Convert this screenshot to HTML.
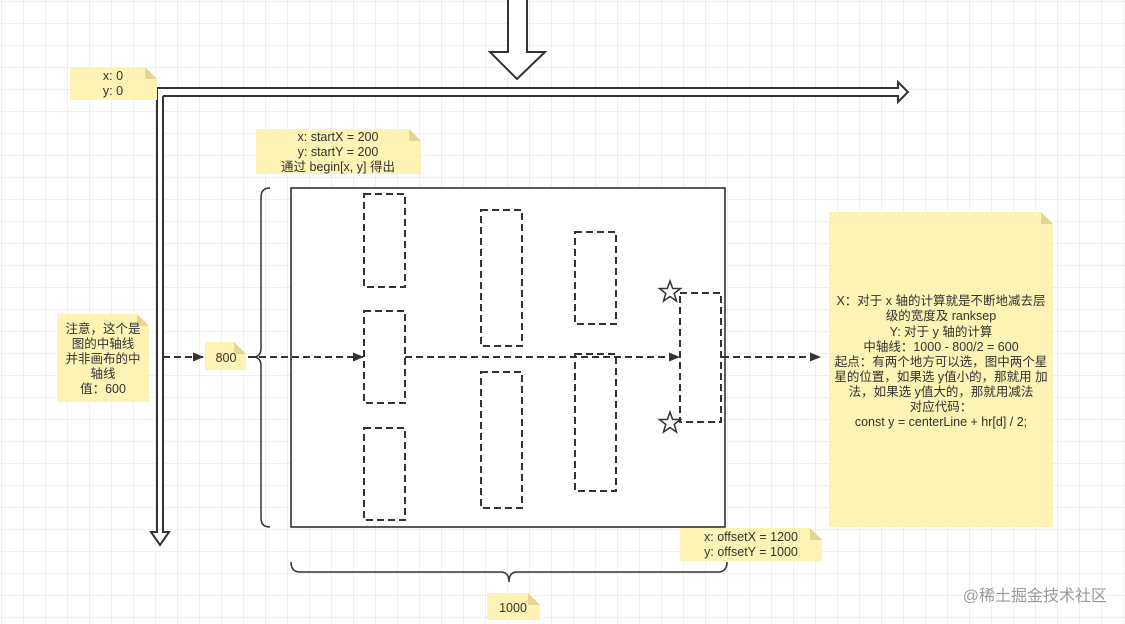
<!DOCTYPE html>
<html><head><meta charset="utf-8"><style>
html,body{margin:0;padding:0;width:1125px;height:624px;overflow:hidden;background:#fff}
svg{display:block}
text{font-family:"Liberation Sans","Noto Sans CJK SC",sans-serif;font-size:12.5px;fill:#333}
</style></head><body>
<svg width="1125" height="624" viewBox="0 0 1125 624" xmlns="http://www.w3.org/2000/svg">
<defs>
<pattern id="g" width="22" height="22" patternUnits="userSpaceOnUse" x="2" y="2">
<path d="M22 0V22M0 22H22" stroke="#e2e2e2" stroke-width="1" fill="none"/>
</pattern>
<marker id="ar" markerWidth="11" markerHeight="9" refX="10" refY="4.5" orient="auto" markerUnits="userSpaceOnUse">
<path d="M0 0L11 4.5L0 9Z" fill="#333"/>
</marker>
</defs>
<rect width="1125" height="624" fill="url(#g)"/>

<path d="M508 0V52H490L517 79L545 52H527V0" fill="#fff" stroke="#333" stroke-width="2"/>

<path d="M157 88H898V82L908 92L898 102V96H163" fill="#fff" stroke="#333" stroke-width="2"/>
<path d="M157 88V532H151L160 545L169 532H163V96" fill="#fff" stroke="#333" stroke-width="2"/>

<rect x="291" y="188" width="434" height="339" fill="#fff" stroke="#222" stroke-width="1.5"/>

<path d="M270 188Q261 188 261 197V348Q261 357 253 357Q261 357 261 366V518Q261 527 270 527" fill="none" stroke="#333" stroke-width="1.5"/>
<path d="M291 562Q291 572 300 572H501Q509 572 509 582Q509 572 517 572H718Q727 572 727 562" fill="none" stroke="#333" stroke-width="1.5"/>

<g fill="none" stroke="#333" stroke-width="2" stroke-dasharray="7,4">
<rect x="364" y="194" width="41" height="93"/>
<rect x="364" y="311" width="41" height="92"/>
<rect x="364" y="428" width="41" height="92"/>
<rect x="481" y="210" width="41" height="136"/>
<rect x="481" y="372" width="41" height="136"/>
<rect x="575" y="232" width="41" height="92"/>
<rect x="575" y="354" width="41" height="137"/>
<rect x="680" y="293" width="41" height="129"/>
<path d="M163 357H203" marker-end="url(#ar)"/>
<path d="M248 357H363" marker-end="url(#ar)"/>
<path d="M405 357H679" marker-end="url(#ar)"/>
<path d="M722 357H820" marker-end="url(#ar)"/>
</g>

<g fill="#fff" stroke="#333" stroke-width="1.5">
<path d="M670 281L672.6 288.4L680.5 288.6L674.2 293.4L676.5 301L670 296.5L663.5 301L665.8 293.4L659.5 288.6L667.4 288.4Z"/>
<path d="M670 412L672.6 419.4L680.5 419.6L674.2 424.4L676.5 432L670 427.5L663.5 432L665.8 424.4L659.5 419.6L667.4 419.4Z"/>
</g>

<g>
<path d="M70 67H145L157 79V100H70Z" fill="#fdf3b4"/><path d="M145 67L157 79H145Z" fill="#e6d592"/>
<text x="113" y="80" text-anchor="middle">x:  0</text>
<text x="113" y="95" text-anchor="middle">y:  0</text>

<path d="M256 129H409L421 141V174H256Z" fill="#fdf3b4"/><path d="M409 129L421 141H409Z" fill="#e6d592"/>
<text x="338" y="141" text-anchor="middle">x:  startX = 200</text>
<text x="338" y="156" text-anchor="middle">y:  startY = 200</text>
<text x="338" y="171" text-anchor="middle">通过 begin[x, y] 得出</text>

<path d="M57 314H137L149 326V402H57Z" fill="#fdf3b4"/><path d="M137 314L149 326H137Z" fill="#e6d592"/>
<text x="103" y="333" text-anchor="middle">注意，这个是</text>
<text x="103" y="348" text-anchor="middle">图的中轴线</text>
<text x="103" y="363" text-anchor="middle">并非画布的中</text>
<text x="103" y="378" text-anchor="middle">轴线</text>
<text x="103" y="393" text-anchor="middle">值：600</text>

<path d="M205 342H234L246 354V370H205Z" fill="#fdf3b4"/><path d="M234 342L246 354H234Z" fill="#e6d592"/>
<text x="226" y="362" text-anchor="middle">800</text>

<path d="M829 212H1041L1053 224V527H829Z" fill="#fdf3b4"/><path d="M1041 212L1053 224H1041Z" fill="#e6d592"/>
<g text-anchor="middle">
<text x="941" y="305">X：对于 x 轴的计算就是不断地减去层</text>
<text x="941" y="320">级的宽度及 ranksep</text>
<text x="941" y="336">Y: 对于 y 轴的计算</text>
<text x="941" y="351">中轴线：1000 - 800/2 = 600</text>
<text x="941" y="366">起点：有两个地方可以选，图中两个星</text>
<text x="941" y="381">星的位置，如果选 y值小的，那就用 加</text>
<text x="941" y="396">法，如果选 y值大的，那就用减法</text>
<text x="941" y="411">对应代码：</text>
<text x="941" y="426">const y = centerLine + hr[d] / 2;</text>
</g>

<path d="M680 528H810L822 540V561H680Z" fill="#fdf3b4"/><path d="M810 528L822 540H810Z" fill="#e6d592"/>
<text x="751" y="541" text-anchor="middle">x:  offsetX = 1200</text>
<text x="751" y="556" text-anchor="middle">y:  offsetY =  1000</text>

<path d="M487 593H528L540 605V620H487Z" fill="#fdf3b4"/><path d="M528 593L540 605H528Z" fill="#e6d592"/>
<text x="513" y="612" text-anchor="middle">1000</text>
</g>

<text x="1107" y="601" text-anchor="end" style="font-size:16px;fill:#9a9a9a">@稀土掘金技术社区</text>
</svg>
</body></html>
